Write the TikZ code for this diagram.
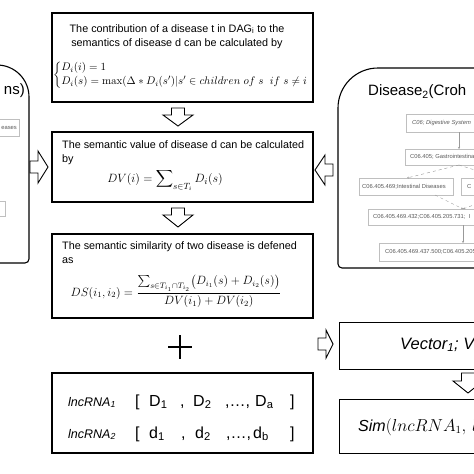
\documentclass[tikz,border=0pt]{standalone}
\usepackage{amsmath}
\usepackage[no-math]{fontspec}
\setmainfont{Liberation Sans}
\usetikzlibrary{calc,arrows.meta}
\newcommand{\FS}[1]{\fontsize{#1}{#1}\selectfont}
\newcommand{\BlkV}[4]{% cx, tail y, head base y, tip y
  \draw[blk] (#1-6.5,#2) -- (#1+6.5,#2) -- (#1+6.5,#3) -- (#1+15,#3) -- (#1,#4) -- (#1-15,#3) -- (#1-6.5,#3) -- cycle;}
\newcommand{\BlkH}[5]{% tail x, head base x, tip x, cy, head half
  \draw[blk] (#1,#4-6) -- (#2,#4-6) -- (#2,#4-#5) -- (#3,#4) -- (#2,#4+#5) -- (#2,#4+6) -- (#1,#4+6) -- cycle;}
\begin{document}
\begin{tikzpicture}[x=1pt,y=-1pt,
  box/.style={draw, line width=1.1pt, inner sep=0pt},
  blk/.style={draw, line width=0.9pt, fill=white, line join=miter},
  txt/.style={inner sep=0pt, font=\FS{10.8}},
  gbox/.style={draw=black!25, line width=0.5pt, fill=white, inner sep=0pt, anchor=north west},
  gtxt/.style={inner sep=0pt, anchor=west, font=\FS{5.8}, text=black!65},
  garr/.style={draw=black!40, line width=0.4pt, -{Stealth[length=2pt,width=2pt]}},
  lt/.style={inner sep=0pt, anchor=base west, font=\FS{16}},
  li/.style={inner sep=0pt, anchor=base west, font=\FS{12.5}\itshape}
]
\useasboundingbox (0,0) rectangle (474,474);
\clip (0,0) rectangle (474,474);
\fill[white] (0,0) rectangle (474,474);

% ---- left rounded box (Disease 1) ----
\draw[box] (-10,65) -- (-3,65) .. controls (14.7,65) and (29,79.3) .. (29,97) [rounded corners=4pt] -- (29,263) -- (-10,263);
\node[inner sep=0pt, anchor=east, font=\FS{15}] (d1t) at (25,91) {ns)};
\node[gbox, minimum width=25pt, minimum height=17pt] (g1) at (-6,119) {};
\node[gtxt, anchor=east] (g1t) at (17,127.5) {eases};
\node[gbox, minimum width=11pt, minimum height=15pt] (g2) at (-6,201) {};

% ---- main boxes ----
\node[box, minimum width=261pt, minimum height=89pt] (b1) at (182.5,57.5) {};
\node[box, minimum width=261pt, minimum height=70pt] (b2) at (182.5,167) {};
\node[box, minimum width=261pt, minimum height=84pt] (b3) at (182.5,276) {};
\node[box, minimum width=261pt, minimum height=80pt] (b4) at (182.5,413) {};

% box 1 content
\node[txt, align=center, font=\FS{10.8}\linespread{1.35}\selectfont] (t1) at (177,36.5)
  {The contribution of a disease t in DAG\textsubscript{i} to the\\semantics of disease d can be calculated by};
\node[inner sep=0pt, anchor=west, font=\FS{11.3}] (f1) at (53,75)
  {$\begin{cases} D_i(i)=1\\ D_i(s)=\max(\Delta * D_i(s')|s'\in children\ of\ s\ \ if\ s\neq i\end{cases}$};

% box 2 content
\node[txt, anchor=north west, align=left, font=\FS{10.8}\linespread{1.3}\selectfont] (t2) at (62,140)
  {The semantic value of disease d can be calculated\\by};
\node[inner sep=0pt, font=\FS{12.5}] (f2) at (165,180)
  {$\displaystyle DV(i)=\sum\nolimits_{s\in T_i} D_i(s)$};

% box 3 content
\node[txt, anchor=north west, align=left, font=\FS{10.8}\linespread{1.3}\selectfont] (t3) at (62,241)
  {The semantic similarity of two disease is defened\\as};
\node[inner sep=0pt, font=\FS{12}] (f3) at (176,291)
  {$\displaystyle DS(i_1,i_2)=\frac{\sum_{s\in T_{i_1}\cap T_{i_2}}\bigl(D_{i_1}(s)+D_{i_2}(s)\bigr)}{DV(i_1)+DV(i_2)}$};

% plus sign
\coordinate (pc) at (180,347);
\draw[line width=2.4pt] ($(pc)+(-12,0)$) -- ($(pc)+(12,0)$) ($(pc)+(0,-12)$) -- ($(pc)+(0,12)$);

% lncRNA box content
\node[li] (l1) at (68,406) {lncRNA\textsubscript{1}};
\node[lt] (l1a) at (135,406) {[};
\node[lt] (l1b) at (149,406) {D\textsubscript{1}};
\node[lt] (l1c) at (180,406) {,};
\node[lt] (l1d) at (193,406) {D\textsubscript{2}};
\node[lt] (l1e) at (225,406) {,\ldots,};
\node[lt] (l1f) at (255,406) {D\textsubscript{a}};
\node[lt] (l1g) at (290,406) {]};
\node[li] (l2) at (68,438) {lncRNA\textsubscript{2}};
\node[lt] (l2a) at (135,438) {[};
\node[lt] (l2b) at (149,438) {d\textsubscript{1}};
\node[lt] (l2c) at (181,438) {,};
\node[lt] (l2d) at (195,438) {d\textsubscript{2}};
\node[lt] (l2e) at (226,438) {,\ldots,};
\node[lt] (l2f) at (253,438) {d\textsubscript{b}};
\node[lt] (l2g) at (290,438) {]};

% ---- right rounded box (Disease 2) ----
\draw[box] (480,68) -- (378,68) .. controls (355.9,68) and (338,85.9) .. (338,108) [rounded corners=4pt] -- (338,268) -- (480,268);
\node[inner sep=0pt, anchor=west, font=\FS{15}] (d2t) at (368,92) {Disease\textsubscript{2}(Croh};

% inner flow chart
\node[gbox, minimum width=80pt, minimum height=18pt] (c1) at (406,114) {};
\node[gtxt] (c1t) at (412,123) {\itshape C06; Digestive System};
\node[gbox, minimum width=80pt, minimum height=16pt] (c2) at (405,149) {};
\node[gtxt] (c2t) at (410,157) {C06.405; Gastrointestinal};
\node[gbox, minimum width=94pt, minimum height=17pt] (c3) at (359,178) {};
\node[gtxt] (c3t) at (362,186.5) {C06.405.469;Intestinal Diseases};
\node[gbox, minimum width=30pt, minimum height=17pt] (c3b) at (461,178) {};
\node[gtxt] (c3bt) at (467,186.5) {C};
\node[gbox, minimum width=120pt, minimum height=16pt] (c4) at (368,209) {};
\node[gtxt] (c4t) at (373,217) {C06.405.469.432;C06.405.205.731;\ \ I};
\node[gbox, minimum width=110pt, minimum height=18pt] (c5) at (379,243) {};
\node[gtxt] (c5t) at (385,252) {C06.405.469.437.500;C06.405.205};
\coordinate (c2s) at (459,165);
\draw[garr] (459,132) -- (459,149);
\draw[garr, dashed] (c2s) -- (407,178);
\draw[garr, dashed] (c2s) -- (500,178);
\draw[garr, dashed] (435,195) -- (463,209);
\draw[garr, dashed] (500,195) -- (463,209);
\draw[garr] (463,225) -- (463,243);

% ---- vector and sim boxes ----
\node[box, minimum width=145pt, minimum height=47pt, anchor=north west] (v) at (339,322) {};
\node[inner sep=0pt, anchor=west, font=\FS{16.5}\itshape] (vt) at (400,345) {Vector\textsubscript{1}; Vector\textsubscript{2}};
\node[box, minimum width=145pt, minimum height=54pt, anchor=north west] (s) at (339,399) {};
\node[inner sep=0pt, anchor=west, font=\FS{16}] (st) at (358,427) {\itshape Sim$(lncRNA_1,\,lncRNA_2)$};

% ---- block arrows ----
\BlkV{178}{108}{115}{126}
\BlkV{178}{208}{215}{227}
\BlkH{30}{38}{48}{167}{16}
\BlkH{333}{325}{315}{170}{15}
\BlkH{318}{326}{333}{344}{14}
\BlkV{468}{373}{381}{393}
\end{tikzpicture}
\end{document}
